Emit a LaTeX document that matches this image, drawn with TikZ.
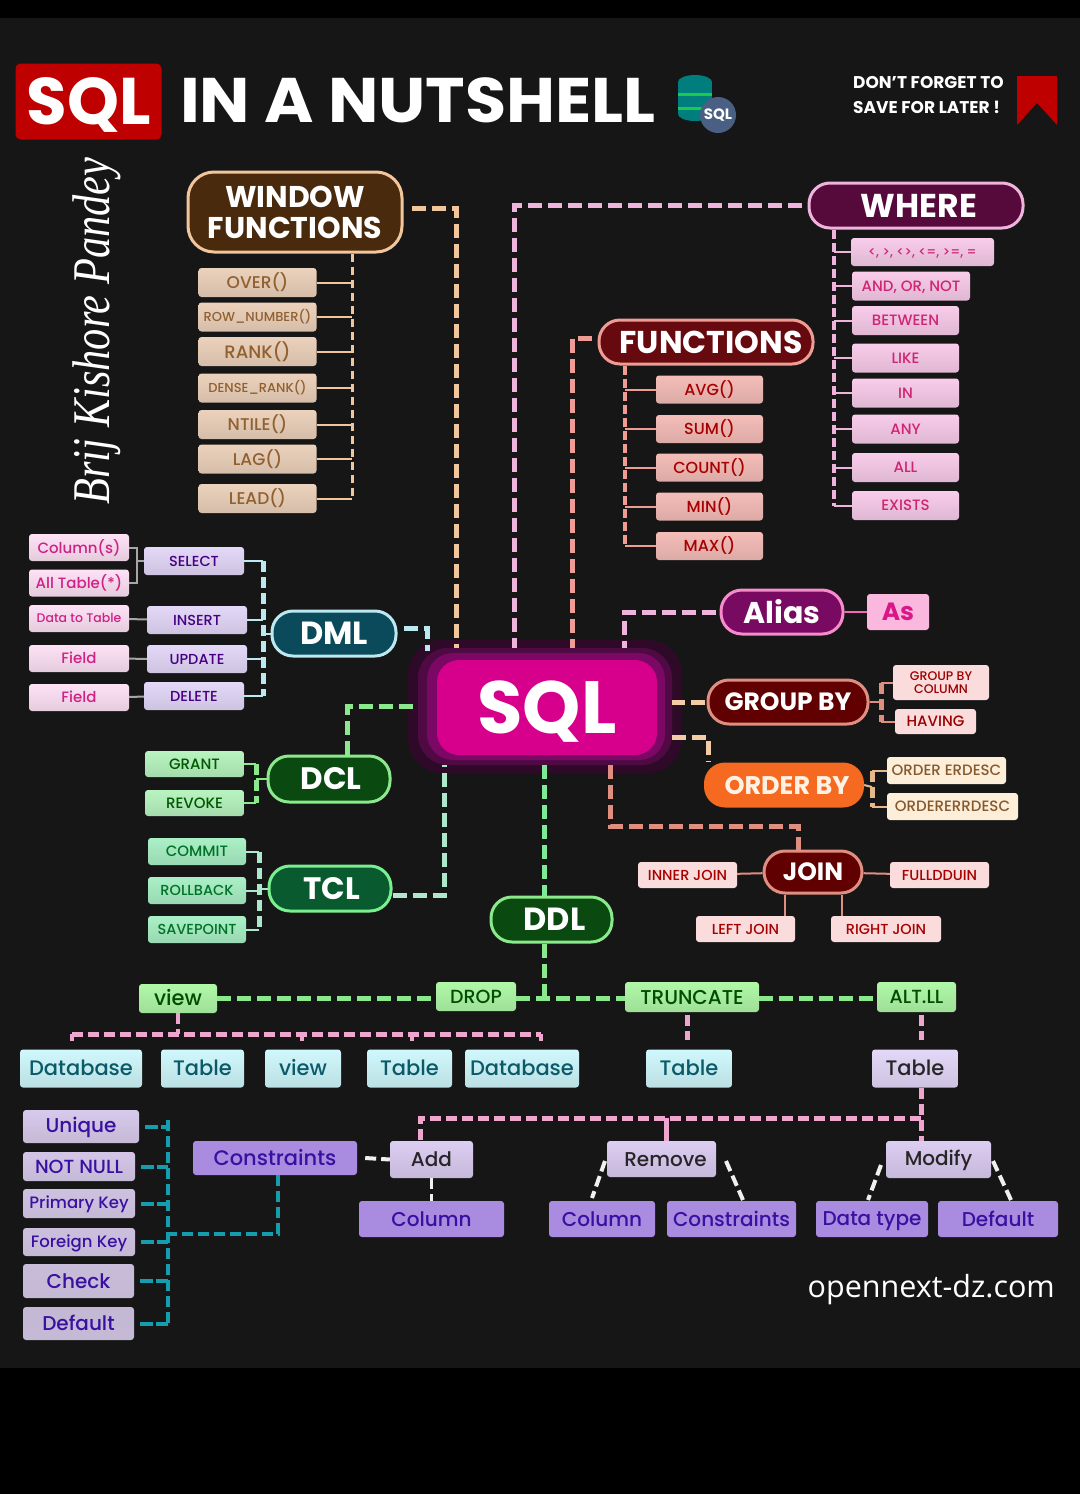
\documentclass[tikz,border=0pt]{standalone}
\usepackage{fontspec}
\setmainfont{Poppins}
\newfontfamily\medfont{Poppins}[UprightFont=* Medium]
\newfontfamily\signfont{Liberation Serif}
\newfontfamily\sitefont{Open Sans}
\newcommand{\pxfont}[1]{\fontsize{#1}{#1}\selectfont}
\newcommand{\headfont}[1]{\fontsize{#1}{#1}\selectfont\bfseries}
\newcommand{\itemfont}[1]{\fontsize{#1}{#1}\medfont}
\definecolor{pagebg}{HTML}{161616}
\definecolor{logored}{HTML}{BE0000}
\definecolor{wintan}{HTML}{F2C69C}
\definecolor{whpink}{HTML}{EFB4DC}
\definecolor{fnrose}{HTML}{EE9C94}
\definecolor{dmlblue}{HTML}{BCE8F0}
\definecolor{dclgreen}{HTML}{8CE88C}
\definecolor{tclgreen}{HTML}{AEE8CC}
\definecolor{grouprose}{HTML}{E08E80}
\definecolor{ddlpink}{HTML}{EFA6CE}
\definecolor{conteal}{HTML}{159DAE}
\definecolor{winfill}{HTML}{4A2A0C}
\definecolor{wherefill}{HTML}{560A3C}
\definecolor{fnfill}{HTML}{660A10}
\definecolor{aliasfill}{HTML}{780A62}
\definecolor{sqlcore}{HTML}{D6008C}
\definecolor{sqlglowa}{HTML}{2E0A28}
\definecolor{sqlglowb}{HTML}{4F0A44}
\definecolor{sqlglowc}{HTML}{7A0864}
\definecolor{dmlfill}{HTML}{0A4A5A}
\definecolor{dclfill}{HTML}{0A4A10}
\definecolor{tclfill}{HTML}{0A5A30}
\definecolor{groupfill}{HTML}{600000}
\definecolor{orderfill}{HTML}{F56A20}
\definecolor{lilac}{HTML}{E4D8F8}
\definecolor{lilacdeep}{HTML}{A98BE0}
\definecolor{lilacink}{HTML}{3A10A0}
\definecolor{lilacpale}{HTML}{DCCDF2}
\definecolor{tanitem}{HTML}{ECD2BC}
\definecolor{pinkitem}{HTML}{F8CCEA}
\definecolor{roseitem}{HTML}{F4BDB8}
\definecolor{rosepale}{HTML}{FBDCDC}
\definecolor{creamitem}{HTML}{FDEEDA}
\definecolor{fielditem}{HTML}{FDE2F5}
\definecolor{greenitem}{HTML}{B8F4C0}
\definecolor{mintitem}{HTML}{AAF0C6}
\definecolor{ddlitem}{HTML}{B0F8A8}
\definecolor{cyanitem}{HTML}{D0F8FC}
\definecolor{cyanink}{HTML}{0A5A6A}
\tikzset{
	pill/.style={draw=#1, line width=3pt, rounded corners=21pt, inner sep=0pt, text=white},
	wh/.style 2 args={minimum width=#1pt, minimum height=#2pt, inner sep=0pt, rounded corners=3pt},
	lab/.style={execute at begin node={\vrule width 0pt height .9em depth .2em\relax}},
	nudge/.style={execute at end node={\kern-#1pt}},
	winitem/.style={top color=#1, bottom color=#1!90!black, lab},
	bus/.style={draw=#1, line width=4pt, dash pattern=on 11pt off 5pt},
	trunk/.style={draw=#1, line width=5pt, dash pattern=on 14pt off 6pt},
	tie/.style={draw=#1, line width=2pt},
}
\begin{document}
\begin{tikzpicture}[x=1pt,y=-1pt]
	\useasboundingbox (0,0) rectangle (1080,1494);
	\fill[black] (0,0) rectangle (1080,1494);
	\fill[pagebg] (0,18) rectangle (1080,1368);
	
	\node[wh={146}{76}, rounded corners=5pt, fill=logored, text=white, lab, font=\headfont{66}] (logo) at (88.5,101.5) {SQL};
	\node[anchor=west, inner sep=0pt, text=white, font=\headfont{63}, xscale=1.064] (title) at (180,100) {IN A NUTSHELL};
	\fill[teal!60!cyan!70!black] (678,82) rectangle (712,114);
	\fill[teal!60!cyan!70!black] (695,82) ellipse [x radius=17pt, y radius=7pt];
	\fill[teal!60!cyan!70!black] (695,114) ellipse [x radius=17pt, y radius=7pt];
	\fill[green!55!teal!90!white] (678,93) rectangle (712,96);
	\fill[green!55!teal!90!white] (678,107) rectangle (712,110);
	\node[circle, minimum size=36pt, inner sep=0pt, fill=cyan!50!blue!55!black, text=white, font=\headfont{15}] (dbsql) at (718,115) {SQL};
	\node[anchor=north west, inner sep=0pt, align=left, text=white, font=\headfont{17}\linespread{1.4}\selectfont] (save) at (853,76) {DON'T FORGET TO\\[1pt]SAVE FOR LATER !};
	\fill[logored] (1017,76) -- (1057,76) -- (1057,125) -- (1037,103) -- (1017,125) -- cycle;
	\node[rotate=90, inner sep=0pt, text=white, xscale=.8, font=\signfont\itshape\pxfont{53}] (sign) at (97,331) {Brij Kishore Pandey};
	
	\node[wh={274}{133}, rounded corners=34pt, fill=sqlglowa] (sqlglow) at (545,706.5) {};
	\node[wh={254}{117}, rounded corners=30pt, fill=sqlglowb] (sqlmid) at (545,706.5) {};
	\node[wh={238}{107}, rounded corners=26pt, fill=sqlglowc] (sqlring) at (546,706.5) {};
	\node[wh={220}{95}, rounded corners=22pt, fill=sqlcore, text=white, lab, font=\headfont{74}] (sql) at (547,707.5) {SQL};
	
	\node[wh={214}{80}, pill=wintan, rounded corners=26pt, fill=winfill, font=\headfont{30}, align=center] (window) at (295,212) {WINDOW\\[1pt]FUNCTIONS};
	\foreach \nm/\lbl/\yc/\ts in {over/OVER()/282.5/17, rownum/ROW\_NUMBER()/317/13, rank/RANK()/351.5/18, denserank/DENSE\_RANK()/388/13, ntile/NTILE()/424.5/17, lag/LAG()/459/17, lead/LEAD()/498.5/17}
		\node[wh={118}{29}, winitem=tanitem, text=brown!75!black, font=\itemfont{\ts}] (\nm) at (257.5,\yc) {\lbl};
	\coordinate (winbus) at (352,260);
	\draw[bus=wintan, line width=3pt, dash pattern=on 8pt off 5pt] (window.south -| winbus) -- (winbus |- lead.east);
	\foreach \nm in {over,rownum,rank,denserank,ntile,lag,lead}
		\draw[tie=wintan] (\nm.east) -- (\nm.east -| winbus);
	
	\node[wh={214}{45}, pill=whpink, nudge=6, fill=wherefill, font=\headfont{33}] (where) at (916,205.5) {WHERE};
	\node[wh={143}{28}, winitem=pinkitem, text=magenta!80!red!85!black, font=\itemfont{13}] (ops) at (922.5,252) {<, >, <>, <=, >=, =};
	\foreach \nm/\lbl/\cx/\yc/\bw in {andor/{AND, OR, NOT}/911/286/118, between/BETWEEN/905.5/320.5/107, like/LIKE/905.5/358/107, in/IN/905.5/393/107, any/ANY/905.5/429/107, all/ALL/905.5/467.5/107, exists/EXISTS/905.5/505.5/107}
		\node[wh={\bw}{29}, winitem=pinkitem, text=magenta!80!red!85!black, font=\itemfont{15}] (w\nm) at (\cx,\yc) {\lbl};
	\coordinate (wherebus) at (834,240);
	\draw[bus=whpink, dash pattern=on 9pt off 4pt] (where.south -| wherebus) -- (wherebus |- wexists.west);
	\foreach \nm in {ops,wandor,wbetween,wlike,win,wany,wall,wexists}
		\draw[tie=whpink] (\nm.west) -- (\nm.west -| wherebus);
	
	\node[wh={214}{44}, pill=fnrose, nudge=10, fill=fnfill, font=\headfont{31.5}] (functions) at (706,342) {FUNCTIONS};
	\foreach \nm/\lbl/\yc in {avg/AVG()/389.5, sum/SUM()/429, count/COUNT()/467.5, min/MIN()/506.5, max/MAX()/546}
		\node[wh={107}{28}, winitem=roseitem, text=red!65!black, font=\itemfont{16}] (\nm) at (709.5,\yc) {\lbl};
	\coordinate (fnbus) at (625,380);
	\draw[bus=fnrose, dash pattern=on 9pt off 4pt] (functions.south -| fnbus) -- (fnbus |- max.west);
	\foreach \nm in {avg,sum,count,min,max}
		\draw[tie=fnrose] (\nm.west) -- (\nm.west -| fnbus);
	
	\node[wh={122}{44}, pill=magenta!45!white, fill=aliasfill, font=\headfont{30}] (alias) at (782,612) {Alias};
	\node[wh={62}{36}, fill=magenta!28!white, text=magenta!90!black, font=\headfont{25}] (as) at (898,612) {As};
	\draw[tie=magenta!60!white] (alias) -- (as);
	
	\node[wh={160}{44}, pill=grouprose, fill=groupfill, font=\headfont{25}] (groupby) at (788,702) {GROUP BY};
	\node[wh={96}{35}, fill=rosepale, text=red!60!black, font=\itemfont{12.5}, align=center] (groupcol) at (941,682.5) {GROUP BY\\[1pt]COLUMN};
	\node[wh={81}{25}, fill=rosepale, text=red!60!black, lab, font=\itemfont{15}] (having) at (935.5,721.5) {HAVING};
	\coordinate (groupbus) at (881,702);
	\draw[bus=grouprose, line width=5pt] (groupbus |- groupcol.west) -- (groupbus |- having.west);
	\draw[tie=grouprose] (groupby.east) -- (groupbus);
	\foreach \nm in {groupcol,having}
		\draw[tie=grouprose] (\nm.west) -- (\nm.west -| groupbus);
	
	\node[wh={160}{45}, rounded corners=21pt, nudge=6, fill=orderfill, text=white!90!orange, font=\headfont{25.5}] (orderby) at (784,785) {ORDER BY};
	\node[wh={119}{27}, fill=creamitem, text=brown!70!black, lab, font=\itemfont{15}] (orderone) at (946.5,770.5) {ORDER ERDESC};
	\node[wh={131}{27}, fill=creamitem, text=brown!70!black, lab, font=\itemfont{15}] (ordertwo) at (952.5,806.5) {ORDERERRDESC};
	\coordinate (orderbus) at (872,787);
	\draw[bus=wintan!80!brown, line width=5pt] (orderbus |- orderone.west) -- (orderbus |- ordertwo.west);
	\draw[tie=wintan!80!brown] (orderby.east) -- (orderbus);
	\foreach \nm in {orderone,ordertwo}
		\draw[tie=wintan!80!brown] (\nm.west) -- (\nm.west -| orderbus);
	
	\node[wh={98}{42}, pill=grouprose, fill=groupfill, font=\headfont{25}] (join) at (813,872) {JOIN};
	\foreach \nm/\lbl/\cx/\yc/\bw in {innerj/INNER JOIN/687.5/875/99, fullj/FULLDDUIN/939.5/875/99, leftj/LEFT JOIN/745.5/929/99, rightj/RIGHT JOIN/886/929/110}
		\node[wh={\bw}{26}, fill=rosepale, text=red!65!black, lab, font=\itemfont{14.5}] (\nm) at (\cx,\yc) {\lbl};
	\coordinate (joinl) at (785,905);
	\coordinate (joinr) at (842,905);
	\draw[tie=grouprose] (innerj) -- (join);
	\draw[tie=grouprose] (join) -- (fullj);
	\draw[tie=grouprose] (joinl |- join.south) -- (joinl |- leftj.north);
	\draw[tie=grouprose] (joinr |- join.south) -- (joinr |- rightj.north);
	
	\node[wh={124}{45}, pill=dmlblue, fill=dmlfill, font=\headfont{32}] (dml) at (334,633.5) {DML};
	\foreach \nm/\lbl/\cx/\yc in {select/SELECT/194/561, insert/INSERT/197/620, update/UPDATE/197/659, delete/DELETE/194/696}
		\node[wh={100}{28}, winitem=lilac, text=violet!70!blue!80!black, font=\itemfont{14.5}] (\nm) at (\cx,\yc) {\lbl};
	\foreach \nm/\lbl/\yc/\ts in {colsl/Column(s)/547.5/15, alltb/All Table(*)/583/15, datat/Data to Table/618.5/12.5, fieldu/Field/658.5/15, fieldd/Field/697.5/15}
		\node[wh={100}{27}, winitem=fielditem, text=magenta!85!black, font=\itemfont{\ts}] (\nm) at (79,\yc) {\lbl};
	\coordinate (dmlbus) at (263,600);
	\draw[bus=dmlblue, line width=5pt] (dmlbus |- select.east) -- (dmlbus |- delete.east);
	\foreach \nm in {select,insert,update,delete}
		\draw[tie=dmlblue] (\nm.east) -- (\nm.east -| dmlbus);
	\draw[tie=dmlblue] (dml.west) -- (dml.west -| dmlbus);
	\coordinate (selbus) at (137,561);
	\draw[tie=gray!70!white] (colsl.east) -| (selbus |- alltb.east) -- (alltb.east);
	\draw[tie=gray!70!white] (selbus) -- (select.west);
	\draw[tie=gray!70!white] (datat) -- (insert);
	\draw[tie=gray!70!white] (fieldu) -- (update);
	\draw[tie=gray!70!white] (fieldd) -- (delete);
	
	\node[wh={122}{46}, pill=dclgreen, nudge=4, fill=dclfill, font=\headfont{31}] (dcl) at (329,779) {DCL};
	\foreach \nm/\lbl/\yc in {grant/GRANT/764, revoke/REVOKE/803}
		\node[wh={99}{26}, winitem=greenitem, text=green!35!black, font=\itemfont{15}] (\nm) at (194.5,\yc) {\lbl};
	\coordinate (dclbus) at (256,780);
	\draw[bus=dclgreen, line width=5pt] (dclbus |- grant.east) -- (dclbus |- revoke.east);
	\foreach \nm in {grant,revoke}
		\draw[tie=dclgreen] (\nm.east) -- (\nm.east -| dclbus);
	\draw[tie=dclgreen] (dcl.west) -- (dcl.west -| dclbus);
	
	\node[wh={122}{45}, pill=tclgreen!70!green, nudge=4, fill=tclfill, font=\headfont{31}] (tcl) at (330,888.5) {TCL};
	\foreach \nm/\lbl/\yc/\ts in {commit/COMMIT/851.5/15, rollback/ROLLBACK/890.5/14.5, savepoint/SAVEPOINT/929.5/14.5}
		\node[wh={98}{27}, winitem=mintitem, text=teal!50!green!60!black, font=\itemfont{\ts}] (\nm) at (197,\yc) {\lbl};
	\coordinate (tclbus) at (259,890);
	\draw[bus=tclgreen, line width=5pt] (tclbus |- commit.east) -- (tclbus |- savepoint.east);
	\foreach \nm in {commit,rollback,savepoint}
		\draw[tie=tclgreen] (\nm.east) -- (\nm.east -| tclbus);
	\draw[tie=tclgreen] (tcl.west) -- (tcl.west -| tclbus);
	
	\node[wh={121}{45}, pill=dclgreen, nudge=6, fill=dclfill, font=\headfont{32}] (ddl) at (551.5,919.5) {DDL};
	
	\coordinate (winup) at (456,208);
	\coordinate (whereup) at (514,205);
	\coordinate (fnup) at (572,338);
	\coordinate (aliasup) at (624,612);
	\coordinate (dmlin) at (427,628);
	\coordinate (dclin) at (347,706);
	\coordinate (tclin) at (444,895);
	\coordinate (orderin) at (708,737);
	\coordinate (joinin) at (610,826);
	\coordinate (joinin2) at (798,826);
	\coordinate (ddlin) at (544,940);
	\draw[trunk=wintan, shorten <=8pt] (window.east |- winup) -- (winup) -- (winup |- sqlmid.north);
	\draw[trunk=whpink, shorten <=6pt] (where.west |- whereup) -- (whereup) -- (whereup |- sqlmid.north);
	\draw[trunk=fnrose, shorten <=6pt] (functions.west |- fnup) -- (fnup) -- (fnup |- sqlmid.north);
	\draw[trunk=whpink, shorten <=4pt] (alias.west) -- (aliasup) -- (aliasup |- sqlmid.north);
	\draw[trunk=dmlblue, shorten <=6pt, shorten >=2pt] (dml.east |- dmlin) -- (dmlin) -- (dmlin |- sqlring.north);
	\draw[trunk=dclgreen] (dcl.north -| dclin) -- (dclin) -- (sqlmid.west |- dclin);
	\draw[trunk=tclgreen] (tcl.east |- tclin) -- (tclin) -- (tclin |- sqlmid.south);
	\draw[trunk=wintan!90!white, shorten <=2pt] (groupby.west) -- (sqlmid.east |- groupby.west);
	\draw[trunk=wintan!90!white] (sqlmid.east |- orderin) -- (orderin) -- (orderin |- orderby.north);
	\draw[trunk=grouprose] (joinin |- sqlmid.south) -- (joinin) -- (joinin2) -- (joinin2 |- join.north);
	\draw[trunk=dclgreen!90!cyan] (ddlin |- sqlmid.south) -- (ddlin |- ddl.north);
	
	\node[wh={78}{29}, winitem=ddlitem, text=green!30!black, font=\itemfont{21}] (ddlview) at (178,998.5) {view};
	\node[wh={80}{29}, winitem=ddlitem, text=green!30!black, font=\itemfont{19}] (drop) at (476,996.5) {DROP};
	\node[wh={134}{30}, winitem=ddlitem, text=green!30!black, font=\itemfont{20}] (truncate) at (692,997) {TRUNCATE};
	\node[wh={79}{30}, winitem=ddlitem, text=green!30!black, font=\itemfont{19}] (alter) at (916.5,997) {ALT.LL};
	\coordinate (ddlbus) at (544,998);
	\draw[trunk=dclgreen] (ddl.south -| ddlin) -- (ddlbus);
	\draw[trunk=dclgreen] (ddlview.east |- ddlbus) -- (drop.west |- ddlbus);
	\draw[trunk=dclgreen] (drop.east |- ddlbus) -- (truncate.west |- ddlbus);
	\draw[trunk=dclgreen] (truncate.east |- ddlbus) -- (alter.west |- ddlbus);
	
	\foreach \nm/\lbl/\cx/\bw in {dbleft/Database/81/122, tbleft/Table/202.5/83, vwmid/view/303/76, tbright/Table/409.5/85, dbright/Database/522/114, tbtrunc/Table/689/86}
		\node[wh={\bw}{38}, winitem=cyanitem, text=cyanink, font=\itemfont{21}] (\nm) at (\cx,1068.5) {\lbl};
	\node[wh={86}{38}, winitem=lilac, text=black!85!white, font=\itemfont{21}] (tbalter) at (915,1068.5) {Table};
	\coordinate (viewbus) at (178,1034);
	\coordinate (viewbusl) at (72,1034);
	\coordinate (viewbusr) at (541,1034);
	\draw[bus=ddlpink] (ddlview.south) -- (viewbus);
	\draw[bus=ddlpink, line width=5pt] (viewbusl) -- (viewbusr);
	\foreach \xt in {72,302,412,541} {
		\coordinate (vtick\xt) at (\xt,1034);
		\draw[tie=ddlpink, line width=4pt] (vtick\xt) -- ++(0,7);
	}
	\coordinate (truncdrop) at (687,1040);
	\coordinate (alterdrop) at (921,1040);
	\draw[bus=ddlpink, line width=5pt, shorten <=3pt] (truncdrop |- truncate.south) -- (truncdrop);
	\draw[bus=ddlpink, line width=5pt, shorten <=3pt] (alterdrop |- alter.south) -- (alterdrop);
	
	\foreach \nm/\lbl/\bw/\yc/\bh/\ts/\cl in {unique/Unique/116/1126.5/33/20/95, notnull/NOT NULL/112/1166.5/29/19/90, prikey/Primary Key/112/1203.5/29/16.5/85, forkey/Foreign Key/112/1242/28/16.5/82, check/Check/111/1281/34/20/78, cdefault/Default/111/1323.5/33/20/74}
		\node[wh={\bw}{\bh}, top color=lilacpale!\cl!gray, bottom color=lilacpale!75!gray, lab, text=lilacink, font=\itemfont{\ts}] (\nm) at (23+\bw/2,\yc) {\lbl};
	\node[wh={164}{34}, fill=lilacdeep, lab, text=lilacink, font=\itemfont{21}] (constraints) at (275,1158) {Constraints};
	\node[wh={83}{37}, winitem=lilacpale, text=black!85!white, font=\itemfont{20}] (add) at (431.5,1159.5) {Add};
	\node[wh={109}{36}, winitem=lilacpale, nudge=8, text=black!85!white, font=\itemfont{20}] (remove) at (661.5,1159) {Remove};
	\node[wh={105}{37}, winitem=lilacpale, text=black!85!white, font=\itemfont{20}] (modify) at (938.5,1159.5) {Modify};
	\foreach \nm/\lbl/\cx/\bw in {addcol/Column/431.5/145, remcol/Column/602/106, remcon/Constraints/731.5/129, datatype/Data type/872/112, moddef/Default/998/120}
		\node[wh={\bw}{36}, fill=lilacdeep, lab, text=lilacink, font=\itemfont{20}] (\nm) at (\cx,1219) {\lbl};
	
	\coordinate (conbus) at (168,1120);
	\coordinate (conhub) at (278,1234);
	\draw[bus=conteal] (conbus) -- (conbus |- cdefault.east);
	\foreach \nm in {unique,notnull,prikey,forkey,check,cdefault}
		\draw[bus=conteal, dash pattern=on 13pt off 3pt] (\nm.east) ++(6,0) -- (conbus |- \nm.east);
	\draw[bus=conteal] (constraints.south -| conhub) -- (conhub) -- (conbus |- conhub);
	
	\coordinate (altbus) at (921,1118);
	\coordinate (addtick) at (420,1118);
	\coordinate (remtick) at (666,1118);
	\draw[bus=ddlpink, line width=5pt] (altbus |- tbalter.south) -- (altbus |- modify.north);
	\draw[bus=ddlpink, line width=5pt] (altbus) -- (addtick) -- (addtick |- add.north);
	\draw[tie=ddlpink, line width=5pt] (remtick) -- (remtick |- remove.north);
	
	\coordinate (remcolin) at (592,1198);
	\coordinate (remcolout) at (605,1161);
	\coordinate (remconin) at (743,1200);
	\coordinate (remconout) at (726,1161);
	\coordinate (dataout) at (881,1165);
	\coordinate (datain) at (868,1200);
	\coordinate (defout) at (993,1161);
	\coordinate (defin) at (1011,1200);
	\draw[bus=white!88!gray] (constraints.east) ++(8,0) -- (add.west);
	\draw[bus=white!88!gray, line width=3pt] (add.south -| addcol) -- (addcol.north);
	\draw[bus=white!88!gray] (remcolout) -- (remcolin);
	\draw[bus=white!88!gray] (remconout) -- (remconin);
	\draw[bus=white!88!gray] (dataout) -- (datain);
	\draw[bus=white!88!gray] (defout) -- (defin);
	
	\node[anchor=east, inner sep=0pt, text=white, font=\sitefont\pxfont{30.5}] (site) at (1055,1290) {opennext-dz.com};
\end{tikzpicture}
\end{document}
